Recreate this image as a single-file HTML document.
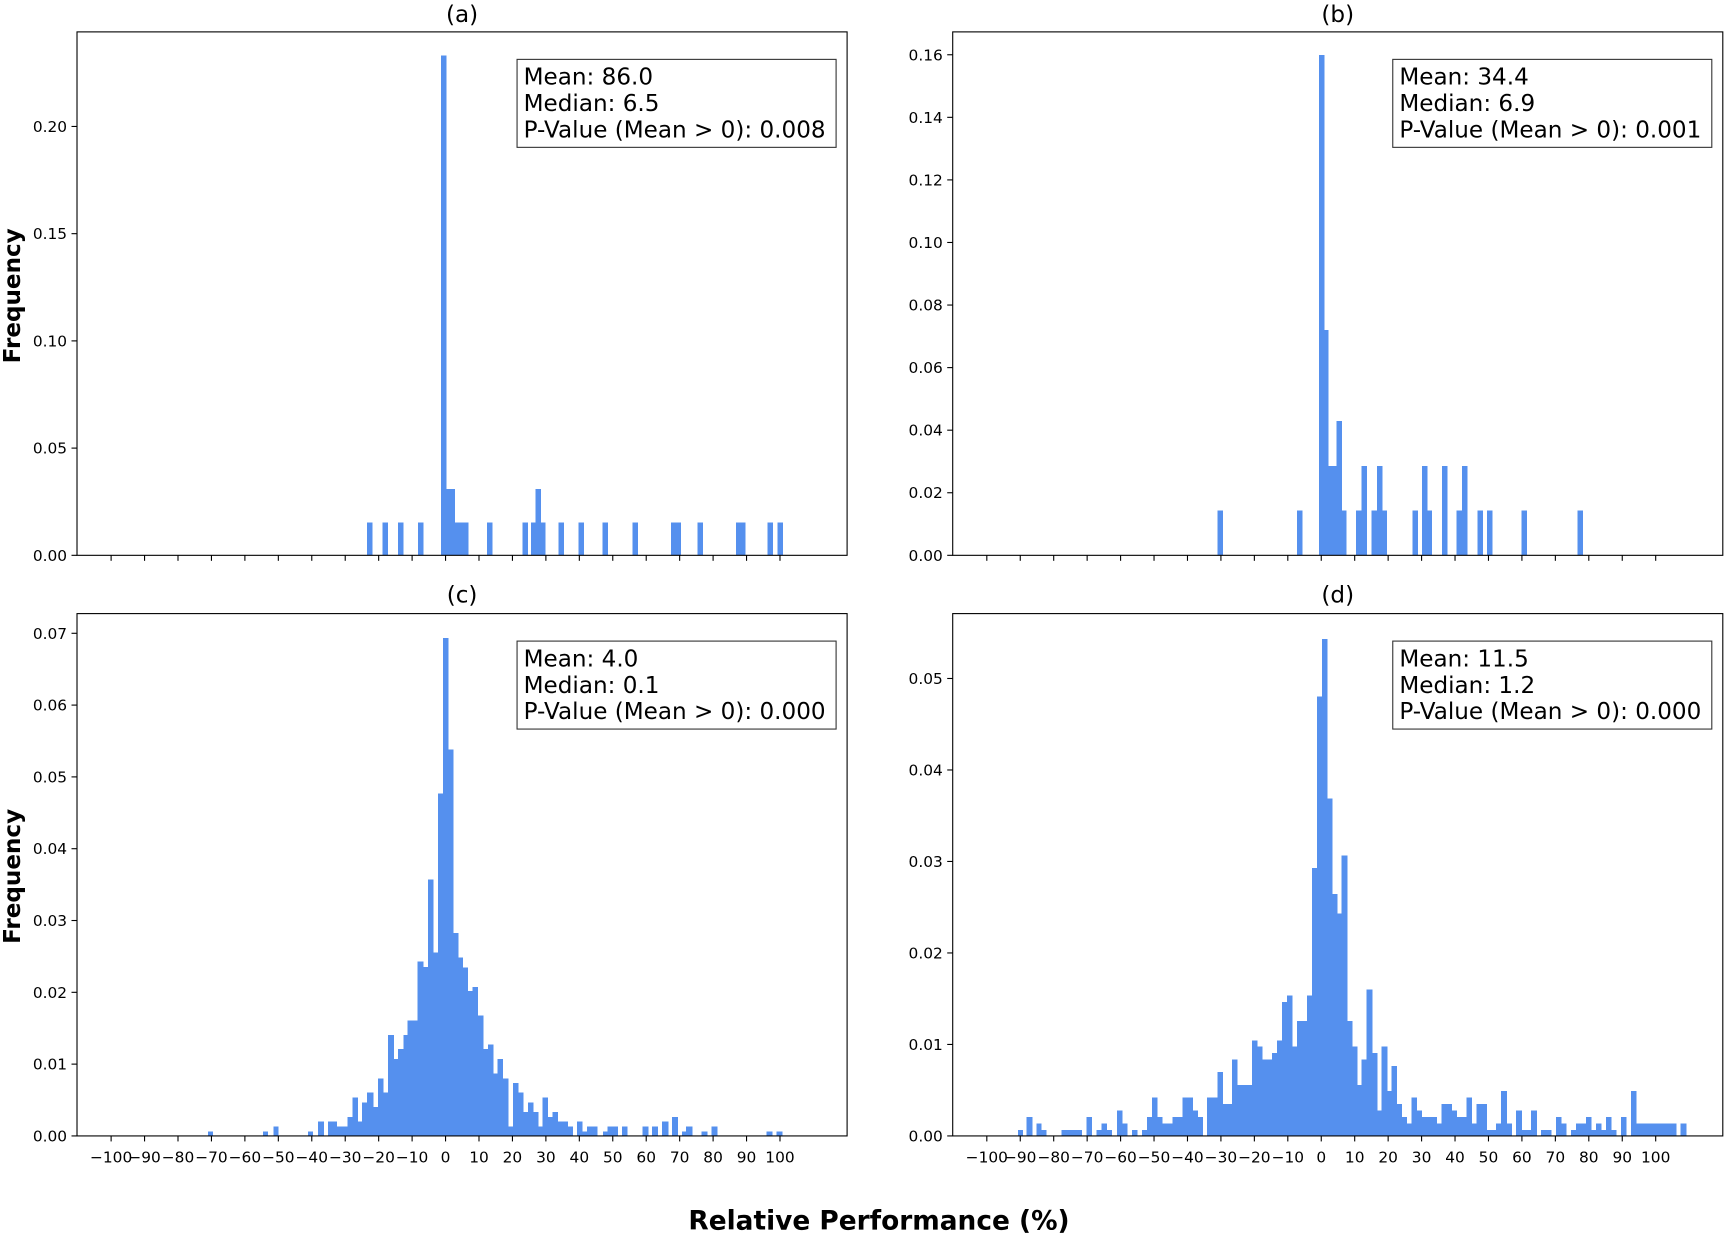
<!DOCTYPE html>
<html><head><meta charset="utf-8"><style>
html,body{margin:0;padding:0;background:#fff;}
svg{display:block;}
text{font-family:"DejaVu Sans","Liberation Sans",sans-serif;fill:#000;}
</style></head><body>
<svg id="s" width="1725" height="1236" viewBox="0 0 1568 1124" preserveAspectRatio="none" xmlns="http://www.w3.org/2000/svg">
<rect width="1568" height="1124" fill="#fff"/>
<g id="bars" fill="#5590ee" shape-rendering="crispEdges"></g>
<g id="ax" fill="none" stroke="#000" stroke-width="1"></g>
<g id="tx" font-size="14"></g>
<text x="420" y="20" text-anchor="middle" font-size="21">(a)</text>
<text x="1216" y="20" text-anchor="middle" font-size="21">(b)</text>
<text x="420" y="548" text-anchor="middle" font-size="21">(c)</text>
<text x="1216" y="548" text-anchor="middle" font-size="21">(d)</text>
<text transform="translate(18,269) rotate(-90)" text-anchor="middle" font-size="21" font-weight="bold">Frequency</text>
<text transform="translate(18,797) rotate(-90)" text-anchor="middle" font-size="21" font-weight="bold">Frequency</text>
<text x="799" y="1118" text-anchor="middle" font-size="24" font-weight="bold">Relative Performance (%)</text>
</svg>
<script>
var NS="http://www.w3.org/2000/svg";
function el(p,t,a,txt){var e=document.createElementNS(NS,t);for(var k in a)e.setAttribute(k,a[k]);if(txt!=null)e.textContent=txt;document.getElementById(p).appendChild(e);return e;}
function rect(x1,x2,y,b){el('bars','rect',{x:x1,y:y,width:Math.max(x2-x1+0.6,0.8),height:b-y});}
var P=[{l:70,r:770,t:29,b:505,x0:405},{l:866,r:1566,t:29,b:505,x0:1201},{l:70,r:770,t:558,b:1033,x0:405},{l:866,r:1566,t:558,b:1033,x0:1201}];
var A=[[336,0.0154],[350,0.0154],[364,0.0154],[382,0.0154],[403,0.233],[407,0.031],[411,0.031],[415,0.0154],[419,0.0154],[423,0.0154],[445,0.0154],[477,0.0154],[485,0.0154],[489,0.031],[493,0.0154],[510,0.0154],[528,0.0154],[550,0.0154],[577,0.0154],[612,0.0154],[616,0.0154],[636,0.0154],[671,0.0154],[675,0.0154],[700,0.0154],[709,0.0154]];
A.forEach(function(d){rect(d[0]-2.2,d[0]+2.2,505-d[1]*1950,505);});
var B=[[1109,0.0143],[1181,0.0143],[1201,0.16],[1205,0.072],[1209,0.0286],[1213,0.0286],[1217,0.043],[1221,0.0143],[1235,0.0143],[1240,0.0286],[1249,0.0143],[1254,0.0286],[1258,0.0143],[1286,0.0143],[1295,0.0286],[1299,0.0143],[1313,0.0286],[1326,0.0143],[1331,0.0286],[1345,0.0143],[1354,0.0143],[1385,0.0143],[1436,0.0143]];
B.forEach(function(d){rect(d[0]-2.2,d[0]+2.2,505-d[1]*2845,505);});
var C=[[378,386,1312],[478,486,1312],[497,505,1300],[560,568,1312],[578,588,1288],[597,612,1288],[612,632,1300],[632,641,1276],[641,650,1228],[650,659,1288],[659,668,1240],[668,678,1216],[678,688,1252],[688,697,1181],[697,706,1216],[706,716,1074],[716,724,1133],[724,734,1109],[734,742,1074],[742,760,1038],[760,770,893],[770,779,906],[779,788,691],[788,797,871],[797,806,478],[806,815,95],[815,824,370],[824,833,823],[833,842,883],[842,851,907],[851,860,966],[860,869,955],[869,879,1026],[879,888,1108],[888,897,1098],[897,906,1169],[906,915,1133],[915,925,1181],[925,934,1300],[934,943,1192],[943,952,1216],[952,961,1264],[961,970,1240],[970,979,1264],[979,988,1300],[988,997,1228],[997,1006,1276],[1006,1015,1264],[1015,1024,1288],[1024,1033,1288],[1033,1042,1300],[1051,1060,1288],[1060,1069,1312],[1069,1087,1300],[1098,1106,1312],[1106,1124,1300],[1133,1142,1300],[1170,1180,1300],[1188,1197,1300],[1206,1216,1288],[1224,1234,1276],[1242,1250,1312],[1250,1260,1300],[1278,1288,1312],[1296,1306,1300],[1396,1406,1312],[1415,1424,1312]];
C.forEach(function(d){var u1=(d[0]-811)/6.1,u2=(d[1]-811)/6.1,f=(1323-d[2])/17714;rect(405+u1*3.04,405+u2*3.04,1033-f*6530,1033);});
var D=[[287,295,1308],[303,312,1276],[321,329,1292],[329,338,1308],[366,402,1308],[411,420,1276],[429,438,1308],[438,447,1292],[447,456,1308],[466,475,1260],[475,484,1292],[493,502,1308],[511,520,1308],[520,529,1276],[529,538,1228],[538,547,1276],[547,566,1292],[566,584,1276],[584,602,1228],[602,611,1260],[611,620,1276],[629,648,1228],[648,656,1165],[656,674,1244],[674,683,1134],[683,710,1197],[710,719,1087],[719,728,1102],[728,746,1134],[746,755,1118],[755,764,1087],[764,773,992],[773,782,976],[782,791,1102],[791,809,1039],[809,818,976],[818,827,661],[827,836,237],[836,845,95],[845,854,490],[854,863,725],[863,872,773],[872,881,630],[881,890,1039],[890,899,1102],[899,908,1197],[908,917,1134],[917,926,961],[926,935,1118],[935,944,1260],[944,953,1102],[953,962,1212],[962,971,1150],[971,980,1244],[980,989,1276],[989,998,1292],[998,1007,1228],[1007,1016,1260],[1016,1043,1276],[1043,1052,1292],[1052,1070,1244],[1070,1079,1260],[1079,1097,1276],[1097,1106,1228],[1106,1115,1292],[1115,1133,1244],[1133,1151,1308],[1151,1160,1292],[1160,1169,1212],[1169,1178,1292],[1187,1196,1260],[1196,1214,1308],[1214,1223,1260],[1232,1250,1308],[1259,1268,1276],[1268,1277,1292],[1286,1295,1308],[1295,1313,1292],[1313,1322,1276],[1322,1331,1308],[1331,1340,1292],[1340,1349,1308],[1349,1358,1276],[1358,1367,1308],[1376,1385,1276],[1394,1403,1212],[1403,1475,1292],[1484,1493,1292]];
D.forEach(function(d){var u1=(d[0]-835)/6.04,u2=(d[1]-835)/6.04,f=(1323-d[2])/22600;rect(1201+u1*3.04,1201+u2*3.04,1033-f*8320,1033);});
P.forEach(function(p,i){
 el('ax','rect',{x:p.l,y:p.t,width:p.r-p.l,height:p.b-p.t});
 for(var v=-100;v<=100;v+=10){var x=p.x0+v*3.04;el('ax','line',{x1:x,y1:p.b,x2:x,y2:p.b+5});
  if(i>=2){el('tx','text',{x:x,y:p.b+24,'text-anchor':'middle'},(v<0?'\u2212':'')+Math.abs(v));}}
});
function yt(p,vals,scale,dec){vals.forEach(function(v){var y=p.b-v*scale;el('ax','line',{x1:p.l-5,y1:y,x2:p.l,y2:y});el('tx','text',{x:p.l-9,y:y+5,'text-anchor':'end'},v.toFixed(dec));});}
yt(P[0],[0,0.05,0.1,0.15,0.2],1950,2);
yt(P[1],[0,0.02,0.04,0.06,0.08,0.1,0.12,0.14,0.16],2845,2);
yt(P[2],[0,0.01,0.02,0.03,0.04,0.05,0.06,0.07],6530,2);
yt(P[3],[0,0.01,0.02,0.03,0.04,0.05],8320,2);
function leg(x,y,m,md,pv){el('ax','rect',{x:x,y:y,width:290,height:80,stroke:'#333'});
 [m,md,pv].forEach(function(s,k){el('tx','text',{x:x+6,y:y+23+k*24,'font-size':'21'},s);});}
leg(470,54,'Mean: 86.0','Median: 6.5','P-Value (Mean > 0): 0.008');
leg(1266,54,'Mean: 34.4','Median: 6.9','P-Value (Mean > 0): 0.001');
leg(470,583,'Mean: 4.0','Median: 0.1','P-Value (Mean > 0): 0.000');
leg(1266,583,'Mean: 11.5','Median: 1.2','P-Value (Mean > 0): 0.000');
</script>
</body></html>
